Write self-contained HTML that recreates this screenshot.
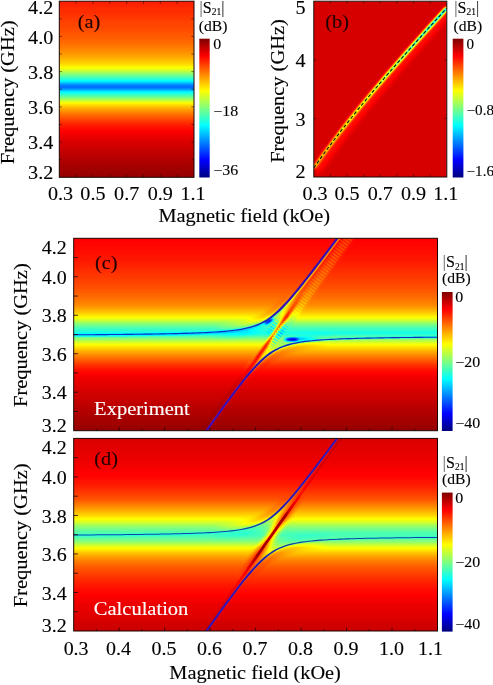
<!DOCTYPE html>
<html lang="en"><head><meta charset="utf-8"><title>Figure</title>
<style>html,body{margin:0;padding:0;background:#fff}svg{display:block}text{stroke-width:.12px;paint-order:stroke fill}text.k{stroke:#000}text.w{stroke:#fff}text.m{stroke:#200000}</style></head>
<body>
<svg width="493" height="685" viewBox="0 0 493 685" font-family='"Liberation Serif", serif'>
<defs>
<filter id="jet" x="0" y="0" width="1" height="1" color-interpolation-filters="sRGB">
<feComponentTransfer>
<feFuncR type="table" tableValues="0 0 0 0 .5 1 1 1 .5"/>
<feFuncG type="table" tableValues="0 0 .5 1 1 1 .5 0 0"/>
<feFuncB type="table" tableValues=".5 1 1 1 .5 0 0 0 0"/>
</feComponentTransfer></filter>
<linearGradient id="cb" x1="0" y1="0" x2="0" y2="1"><stop offset="0" stop-color="#fff"/><stop offset="1" stop-color="#000"/></linearGradient>
<filter id="b0_6" x="-20%" y="-20%" width="140%" height="140%" color-interpolation-filters="sRGB"><feGaussianBlur stdDeviation="0.6"/></filter>
<filter id="b1" x="-20%" y="-20%" width="140%" height="140%" color-interpolation-filters="sRGB"><feGaussianBlur stdDeviation="1"/></filter>
<filter id="b1_5" x="-20%" y="-20%" width="140%" height="140%" color-interpolation-filters="sRGB"><feGaussianBlur stdDeviation="1.5"/></filter>
<filter id="b2_5" x="-20%" y="-20%" width="140%" height="140%" color-interpolation-filters="sRGB"><feGaussianBlur stdDeviation="2.5"/></filter>
<filter id="b4" x="-20%" y="-20%" width="140%" height="140%" color-interpolation-filters="sRGB"><feGaussianBlur stdDeviation="4"/></filter>
<linearGradient id="ga" x1="0" y1="0" x2="0" y2="1"><stop offset="0%" stop-color="#d7d7d7"/><stop offset="1.14%" stop-color="#d7d7d7"/><stop offset="2.27%" stop-color="#d6d6d6"/><stop offset="3.41%" stop-color="#d5d5d5"/><stop offset="4.55%" stop-color="#d4d4d4"/><stop offset="5.68%" stop-color="#d4d4d4"/><stop offset="6.82%" stop-color="#d3d3d3"/><stop offset="7.95%" stop-color="#d2d2d2"/><stop offset="9.09%" stop-color="#d1d1d1"/><stop offset="10.23%" stop-color="#d0d0d0"/><stop offset="11.36%" stop-color="#cfcfcf"/><stop offset="12.5%" stop-color="#cecece"/><stop offset="13.64%" stop-color="#cecece"/><stop offset="14.77%" stop-color="#cdcdcd"/><stop offset="15.91%" stop-color="#cccccc"/><stop offset="17.05%" stop-color="#cbcbcb"/><stop offset="18.18%" stop-color="#cacaca"/><stop offset="19.32%" stop-color="#c9c9c9"/><stop offset="20.45%" stop-color="#c8c8c8"/><stop offset="21.59%" stop-color="#c7c7c7"/><stop offset="22.73%" stop-color="#c5c5c5"/><stop offset="23.86%" stop-color="#c4c4c4"/><stop offset="25%" stop-color="#c2c2c2"/><stop offset="26.14%" stop-color="#c0c0c0"/><stop offset="27.27%" stop-color="#bebebe"/><stop offset="28.41%" stop-color="#bcbcbc"/><stop offset="29.55%" stop-color="#bababa"/><stop offset="30.68%" stop-color="#b7b7b7"/><stop offset="31.82%" stop-color="#b5b5b5"/><stop offset="32.95%" stop-color="#b1b1b1"/><stop offset="34.09%" stop-color="#aeaeae"/><stop offset="35.23%" stop-color="#aaaaaa"/><stop offset="36.36%" stop-color="#a6a6a6"/><stop offset="37.5%" stop-color="#a0a0a0"/><stop offset="38.64%" stop-color="#999999"/><stop offset="39.77%" stop-color="#909090"/><stop offset="40.91%" stop-color="#858585"/><stop offset="42.05%" stop-color="#7c7c7c"/><stop offset="43.18%" stop-color="#727272"/><stop offset="44.32%" stop-color="#696969"/><stop offset="45.45%" stop-color="#5e5e5e"/><stop offset="46.59%" stop-color="#4e4e4e"/><stop offset="47.73%" stop-color="#3f3f3f"/><stop offset="48.86%" stop-color="#3a3a3a"/><stop offset="50%" stop-color="#464646"/><stop offset="51.14%" stop-color="#585858"/><stop offset="52.27%" stop-color="#666666"/><stop offset="53.41%" stop-color="#717171"/><stop offset="54.55%" stop-color="#7b7b7b"/><stop offset="55.68%" stop-color="#888888"/><stop offset="56.82%" stop-color="#959595"/><stop offset="57.95%" stop-color="#a1a1a1"/><stop offset="59.09%" stop-color="#a9a9a9"/><stop offset="60.23%" stop-color="#b0b0b0"/><stop offset="61.36%" stop-color="#b6b6b6"/><stop offset="62.5%" stop-color="#bbbbbb"/><stop offset="63.64%" stop-color="#c0c0c0"/><stop offset="64.77%" stop-color="#c5c5c5"/><stop offset="65.91%" stop-color="#c9c9c9"/><stop offset="67.05%" stop-color="#cdcdcd"/><stop offset="68.18%" stop-color="#d1d1d1"/><stop offset="69.32%" stop-color="#d5d5d5"/><stop offset="70.45%" stop-color="#d8d8d8"/><stop offset="71.59%" stop-color="#dbdbdb"/><stop offset="72.73%" stop-color="#dddddd"/><stop offset="73.86%" stop-color="#dfdfdf"/><stop offset="75%" stop-color="#e1e1e1"/><stop offset="76.14%" stop-color="#e3e3e3"/><stop offset="77.27%" stop-color="#e5e5e5"/><stop offset="78.41%" stop-color="#e6e6e6"/><stop offset="79.55%" stop-color="#e8e8e8"/><stop offset="80.68%" stop-color="#e9e9e9"/><stop offset="81.82%" stop-color="#eaeaea"/><stop offset="82.95%" stop-color="#ebebeb"/><stop offset="84.09%" stop-color="#ececec"/><stop offset="85.23%" stop-color="#eeeeee"/><stop offset="86.36%" stop-color="#efefef"/><stop offset="87.5%" stop-color="#f0f0f0"/><stop offset="88.64%" stop-color="#f1f1f1"/><stop offset="89.77%" stop-color="#f2f2f2"/><stop offset="90.91%" stop-color="#f3f3f3"/><stop offset="92.05%" stop-color="#f4f4f4"/><stop offset="93.18%" stop-color="#f5f5f5"/><stop offset="94.32%" stop-color="#f6f6f6"/><stop offset="95.45%" stop-color="#f7f7f7"/><stop offset="96.59%" stop-color="#f7f7f7"/><stop offset="97.73%" stop-color="#f8f8f8"/><stop offset="98.86%" stop-color="#f9f9f9"/><stop offset="100%" stop-color="#f9f9f9"/></linearGradient>
<linearGradient id="gbl" gradientUnits="userSpaceOnUse" x1="313.8" y1="0" x2="446.8" y2="0"><stop offset="0" stop-color="#000" stop-opacity=".24"/><stop offset=".45" stop-color="#000" stop-opacity=".38"/><stop offset="1" stop-color="#000" stop-opacity=".7"/></linearGradient>
<linearGradient id="gbh" gradientUnits="userSpaceOnUse" x1="313.8" y1="0" x2="446.8" y2="0"><stop offset="0" stop-color="#000" stop-opacity=".08"/><stop offset="1" stop-color="#000" stop-opacity=".3"/></linearGradient>
<clipPath id="cpb"><rect x="313.8" y="1.2" width="133" height="175.8"/></clipPath>
<linearGradient id="gc" x1="0" y1="0" x2="0" y2="1"><stop offset="0%" stop-color="#dfdfdf"/><stop offset="1.04%" stop-color="#dfdfdf"/><stop offset="2.08%" stop-color="#dedede"/><stop offset="3.12%" stop-color="#dedede"/><stop offset="4.17%" stop-color="#dddddd"/><stop offset="5.21%" stop-color="#dddddd"/><stop offset="6.25%" stop-color="#dcdcdc"/><stop offset="7.29%" stop-color="#dcdcdc"/><stop offset="8.33%" stop-color="#dbdbdb"/><stop offset="9.38%" stop-color="#dadada"/><stop offset="10.42%" stop-color="#dadada"/><stop offset="11.46%" stop-color="#d9d9d9"/><stop offset="12.5%" stop-color="#d8d8d8"/><stop offset="13.54%" stop-color="#d7d7d7"/><stop offset="14.58%" stop-color="#d6d6d6"/><stop offset="15.62%" stop-color="#d5d5d5"/><stop offset="16.67%" stop-color="#d4d4d4"/><stop offset="17.71%" stop-color="#d3d3d3"/><stop offset="18.75%" stop-color="#d2d2d2"/><stop offset="19.79%" stop-color="#d1d1d1"/><stop offset="20.83%" stop-color="#d0d0d0"/><stop offset="21.88%" stop-color="#cfcfcf"/><stop offset="22.92%" stop-color="#cecece"/><stop offset="23.96%" stop-color="#cdcdcd"/><stop offset="25%" stop-color="#cccccc"/><stop offset="26.04%" stop-color="#cbcbcb"/><stop offset="27.08%" stop-color="#c9c9c9"/><stop offset="28.12%" stop-color="#c8c8c8"/><stop offset="29.17%" stop-color="#c6c6c6"/><stop offset="30.21%" stop-color="#c5c5c5"/><stop offset="31.25%" stop-color="#c3c3c3"/><stop offset="32.29%" stop-color="#c1c1c1"/><stop offset="33.33%" stop-color="#bfbfbf"/><stop offset="34.38%" stop-color="#bdbdbd"/><stop offset="35.42%" stop-color="#bababa"/><stop offset="36.46%" stop-color="#b6b6b6"/><stop offset="37.5%" stop-color="#b2b2b2"/><stop offset="38.54%" stop-color="#adadad"/><stop offset="39.58%" stop-color="#a8a8a8"/><stop offset="40.62%" stop-color="#a2a2a2"/><stop offset="41.67%" stop-color="#9c9c9c"/><stop offset="42.71%" stop-color="#929292"/><stop offset="43.75%" stop-color="#888888"/><stop offset="44.79%" stop-color="#7f7f7f"/><stop offset="45.83%" stop-color="#777777"/><stop offset="46.88%" stop-color="#707070"/><stop offset="47.92%" stop-color="#6b6b6b"/><stop offset="48.96%" stop-color="#666666"/><stop offset="50%" stop-color="#696969"/><stop offset="51.04%" stop-color="#757575"/><stop offset="52.08%" stop-color="#818181"/><stop offset="53.12%" stop-color="#8c8c8c"/><stop offset="54.17%" stop-color="#969696"/><stop offset="55.21%" stop-color="#9e9e9e"/><stop offset="56.25%" stop-color="#a5a5a5"/><stop offset="57.29%" stop-color="#ababab"/><stop offset="58.33%" stop-color="#b1b1b1"/><stop offset="59.38%" stop-color="#b6b6b6"/><stop offset="60.42%" stop-color="#bbbbbb"/><stop offset="61.46%" stop-color="#c0c0c0"/><stop offset="62.5%" stop-color="#c4c4c4"/><stop offset="63.54%" stop-color="#c9c9c9"/><stop offset="64.58%" stop-color="#cdcdcd"/><stop offset="65.62%" stop-color="#d2d2d2"/><stop offset="66.67%" stop-color="#d5d5d5"/><stop offset="67.71%" stop-color="#d9d9d9"/><stop offset="68.75%" stop-color="#dcdcdc"/><stop offset="69.79%" stop-color="#dedede"/><stop offset="70.83%" stop-color="#e0e0e0"/><stop offset="71.88%" stop-color="#e2e2e2"/><stop offset="72.92%" stop-color="#e3e3e3"/><stop offset="73.96%" stop-color="#e4e4e4"/><stop offset="75%" stop-color="#e5e5e5"/><stop offset="76.04%" stop-color="#e6e6e6"/><stop offset="77.08%" stop-color="#e7e7e7"/><stop offset="78.12%" stop-color="#e8e8e8"/><stop offset="79.17%" stop-color="#e9e9e9"/><stop offset="80.21%" stop-color="#eaeaea"/><stop offset="81.25%" stop-color="#ebebeb"/><stop offset="82.29%" stop-color="#ececec"/><stop offset="83.33%" stop-color="#ececec"/><stop offset="84.38%" stop-color="#ededed"/><stop offset="85.42%" stop-color="#eeeeee"/><stop offset="86.46%" stop-color="#efefef"/><stop offset="87.5%" stop-color="#f0f0f0"/><stop offset="88.54%" stop-color="#f1f1f1"/><stop offset="89.58%" stop-color="#f2f2f2"/><stop offset="90.62%" stop-color="#f2f2f2"/><stop offset="91.67%" stop-color="#f3f3f3"/><stop offset="92.71%" stop-color="#f4f4f4"/><stop offset="93.75%" stop-color="#f5f5f5"/><stop offset="94.79%" stop-color="#f6f6f6"/><stop offset="95.83%" stop-color="#f6f6f6"/><stop offset="96.88%" stop-color="#f7f7f7"/><stop offset="97.92%" stop-color="#f8f8f8"/><stop offset="98.96%" stop-color="#f9f9f9"/><stop offset="100%" stop-color="#f9f9f9"/></linearGradient>
<clipPath id="cpc"><rect x="73.7" y="238.3" width="363.8" height="192.4"/></clipPath>
<radialGradient id="mgc" gradientUnits="userSpaceOnUse" cx="272.02" cy="335.85" r="62" gradientTransform="translate(272.02 335.85) scale(1 0.8) translate(-272.02 -335.85)"><stop offset="0" stop-color="#fff"/><stop offset=".45" stop-color="#fff"/><stop offset="1" stop-color="#000"/></radialGradient>
<mask id="mkc" maskUnits="userSpaceOnUse" x="0" y="0" width="493" height="685"><rect x="0" y="238.3" width="493" height="192.4" fill="url(#mgc)"/></mask>
<clipPath id="crc"><path d="M289.31 344.5L292.52 343.7L295.73 343.01L298.94 342.43L302.15 341.92L305.36 341.48L308.57 341.09L311.78 340.75L314.99 340.45L318.19 340.18L321.4 339.94L324.62 339.73L327.82 339.53L331.04 339.36L334.25 339.2L337.46 339.05L340.67 338.92L343.88 338.79L347.09 338.68L350.3 338.57L353.51 338.47L356.71 338.38L359.93 338.3L363.13 338.22L366.35 338.14L369.56 338.07L372.77 338.01L375.98 337.94L379.19 337.88L382.4 337.83L385.61 337.78L388.82 337.73L392.02 337.68L395.24 337.63L398.44 337.59L401.66 337.55L404.87 337.51L408.08 337.47L411.29 337.44L414.49 337.4L417.71 337.37L420.91 337.34L424.13 337.31L427.33 337.28L430.54 337.25L433.75 337.23L436.96 337.2L440.18 337.18L443.38 337.15L446.59 337.13L449.5 233.3L289.31 233.3Z"/></clipPath>
<radialGradient id="rg1" gradientUnits="userSpaceOnUse" cx="281.02" cy="336.85" r="17"><stop offset="0" stop-color="#fff"/><stop offset=".5" stop-color="#fff" stop-opacity=".8"/><stop offset="1" stop-color="#fff" stop-opacity="0"/></radialGradient>
<mask id="mr1" maskUnits="userSpaceOnUse" x="0" y="0" width="493" height="685"><rect x="0" y="238.3" width="493" height="192.4" fill="url(#rg1)"/></mask>
<radialGradient id="rg2" gradientUnits="userSpaceOnUse" cx="271.02" cy="324.85" r="11"><stop offset="0" stop-color="#fff"/><stop offset=".5" stop-color="#fff" stop-opacity=".8"/><stop offset="1" stop-color="#fff" stop-opacity="0"/></radialGradient>
<mask id="mr2" maskUnits="userSpaceOnUse" x="0" y="0" width="493" height="685"><rect x="0" y="238.3" width="493" height="192.4" fill="url(#rg2)"/></mask>
<linearGradient id="lowg" gradientUnits="userSpaceOnUse" x1="0" y1="360.85" x2="0" y2="430.7"><stop offset="0" stop-color="#fff" stop-opacity="0"/><stop offset="1" stop-color="#fff" stop-opacity=".42"/></linearGradient>
<linearGradient id="lgc" gradientUnits="userSpaceOnUse" x1="0" y1="303.85" x2="0" y2="367.85"><stop offset="0" stop-color="#380cb4"/><stop offset=".5" stop-color="#0834c4"/><stop offset="1" stop-color="#380cb4"/></linearGradient>
<linearGradient id="gd" x1="0" y1="0" x2="0" y2="1"><stop offset="0%" stop-color="#e8e8e8"/><stop offset="1.04%" stop-color="#e8e8e8"/><stop offset="2.08%" stop-color="#e7e7e7"/><stop offset="3.12%" stop-color="#e7e7e7"/><stop offset="4.17%" stop-color="#e7e7e7"/><stop offset="5.21%" stop-color="#e6e6e6"/><stop offset="6.25%" stop-color="#e6e6e6"/><stop offset="7.29%" stop-color="#e5e5e5"/><stop offset="8.33%" stop-color="#e5e5e5"/><stop offset="9.38%" stop-color="#e4e4e4"/><stop offset="10.42%" stop-color="#e4e4e4"/><stop offset="11.46%" stop-color="#e3e3e3"/><stop offset="12.5%" stop-color="#e3e3e3"/><stop offset="13.54%" stop-color="#e2e2e2"/><stop offset="14.58%" stop-color="#e2e2e2"/><stop offset="15.62%" stop-color="#e1e1e1"/><stop offset="16.67%" stop-color="#e0e0e0"/><stop offset="17.71%" stop-color="#dfdfdf"/><stop offset="18.75%" stop-color="#dfdfdf"/><stop offset="19.79%" stop-color="#dedede"/><stop offset="20.83%" stop-color="#dddddd"/><stop offset="21.88%" stop-color="#dbdbdb"/><stop offset="22.92%" stop-color="#dadada"/><stop offset="23.96%" stop-color="#d9d9d9"/><stop offset="25%" stop-color="#d7d7d7"/><stop offset="26.04%" stop-color="#d5d5d5"/><stop offset="27.08%" stop-color="#d3d3d3"/><stop offset="28.12%" stop-color="#d1d1d1"/><stop offset="29.17%" stop-color="#cfcfcf"/><stop offset="30.21%" stop-color="#cdcdcd"/><stop offset="31.25%" stop-color="#cbcbcb"/><stop offset="32.29%" stop-color="#c8c8c8"/><stop offset="33.33%" stop-color="#c4c4c4"/><stop offset="34.38%" stop-color="#c0c0c0"/><stop offset="35.42%" stop-color="#bcbcbc"/><stop offset="36.46%" stop-color="#b8b8b8"/><stop offset="37.5%" stop-color="#b4b4b4"/><stop offset="38.54%" stop-color="#afafaf"/><stop offset="39.58%" stop-color="#ababab"/><stop offset="40.62%" stop-color="#a6a6a6"/><stop offset="41.67%" stop-color="#a0a0a0"/><stop offset="42.71%" stop-color="#9a9a9a"/><stop offset="43.75%" stop-color="#939393"/><stop offset="44.79%" stop-color="#8b8b8b"/><stop offset="45.83%" stop-color="#848484"/><stop offset="46.88%" stop-color="#7e7e7e"/><stop offset="47.92%" stop-color="#787878"/><stop offset="48.96%" stop-color="#747474"/><stop offset="50%" stop-color="#717171"/><stop offset="51.04%" stop-color="#747474"/><stop offset="52.08%" stop-color="#797979"/><stop offset="53.12%" stop-color="#7f7f7f"/><stop offset="54.17%" stop-color="#878787"/><stop offset="55.21%" stop-color="#919191"/><stop offset="56.25%" stop-color="#9a9a9a"/><stop offset="57.29%" stop-color="#a1a1a1"/><stop offset="58.33%" stop-color="#a7a7a7"/><stop offset="59.38%" stop-color="#adadad"/><stop offset="60.42%" stop-color="#b2b2b2"/><stop offset="61.46%" stop-color="#b7b7b7"/><stop offset="62.5%" stop-color="#bbbbbb"/><stop offset="63.54%" stop-color="#bfbfbf"/><stop offset="64.58%" stop-color="#c2c2c2"/><stop offset="65.62%" stop-color="#c5c5c5"/><stop offset="66.67%" stop-color="#c8c8c8"/><stop offset="67.71%" stop-color="#cacaca"/><stop offset="68.75%" stop-color="#cccccc"/><stop offset="69.79%" stop-color="#cecece"/><stop offset="70.83%" stop-color="#d0d0d0"/><stop offset="71.88%" stop-color="#d2d2d2"/><stop offset="72.92%" stop-color="#d4d4d4"/><stop offset="73.96%" stop-color="#d6d6d6"/><stop offset="75%" stop-color="#d7d7d7"/><stop offset="76.04%" stop-color="#d9d9d9"/><stop offset="77.08%" stop-color="#dadada"/><stop offset="78.12%" stop-color="#dcdcdc"/><stop offset="79.17%" stop-color="#dddddd"/><stop offset="80.21%" stop-color="#dedede"/><stop offset="81.25%" stop-color="#dfdfdf"/><stop offset="82.29%" stop-color="#e0e0e0"/><stop offset="83.33%" stop-color="#e1e1e1"/><stop offset="84.38%" stop-color="#e2e2e2"/><stop offset="85.42%" stop-color="#e3e3e3"/><stop offset="86.46%" stop-color="#e4e4e4"/><stop offset="87.5%" stop-color="#e4e4e4"/><stop offset="88.54%" stop-color="#e5e5e5"/><stop offset="89.58%" stop-color="#e5e5e5"/><stop offset="90.62%" stop-color="#e6e6e6"/><stop offset="91.67%" stop-color="#e7e7e7"/><stop offset="92.71%" stop-color="#e7e7e7"/><stop offset="93.75%" stop-color="#e8e8e8"/><stop offset="94.79%" stop-color="#e9e9e9"/><stop offset="95.83%" stop-color="#eaeaea"/><stop offset="96.88%" stop-color="#ebebeb"/><stop offset="97.92%" stop-color="#ebebeb"/><stop offset="98.96%" stop-color="#ececec"/><stop offset="100%" stop-color="#ededed"/></linearGradient>
<clipPath id="cpd"><rect x="73.7" y="438.4" width="363.8" height="192.6"/></clipPath>
<radialGradient id="mgd" gradientUnits="userSpaceOnUse" cx="272.02" cy="536.05" r="62" gradientTransform="translate(272.02 536.05) scale(1 0.8) translate(-272.02 -536.05)"><stop offset="0" stop-color="#fff"/><stop offset=".45" stop-color="#fff"/><stop offset="1" stop-color="#000"/></radialGradient>
<mask id="mkd" maskUnits="userSpaceOnUse" x="0" y="0" width="493" height="685"><rect x="0" y="438.4" width="493" height="192.6" fill="url(#mgd)"/></mask>
<linearGradient id="lgd" gradientUnits="userSpaceOnUse" x1="0" y1="504.05" x2="0" y2="568.05"><stop offset="0" stop-color="#3012b8"/><stop offset=".5" stop-color="#0c4ca4"/><stop offset="1" stop-color="#3012b8"/></linearGradient>
</defs>
<rect x="59.3" y="1.2" width="134.7" height="176.1" fill="url(#ga)" filter="url(#jet)"/>
<path d="M76.14 177.3v-2.6M76.14 1.2v2.6M92.97 177.3v-2.6M92.97 1.2v2.6M109.81 177.3v-2.6M109.81 1.2v2.6M126.65 177.3v-2.6M126.65 1.2v2.6M143.49 177.3v-2.6M143.49 1.2v2.6M160.32 177.3v-2.6M160.32 1.2v2.6M177.16 177.3v-2.6M177.16 1.2v2.6M59.3 18.81h2.6M194 18.81h-2.6M59.3 36.42h2.6M194 36.42h-2.6M59.3 54.03h2.6M194 54.03h-2.6M59.3 71.64h2.6M194 71.64h-2.6M59.3 89.25h2.6M194 89.25h-2.6M59.3 106.86h2.6M194 106.86h-2.6M59.3 124.47h2.6M194 124.47h-2.6M59.3 142.08h2.6M194 142.08h-2.6M59.3 159.69h2.6M194 159.69h-2.6" stroke="#1a0a0a" stroke-width="0.9" stroke-opacity="0.6" fill="none"/>
<rect x="59.3" y="1.2" width="134.7" height="176.1" fill="none" stroke="#1a0505" stroke-width="1"/>
<text class="k" transform="translate(53.3 13.85) scale(1.09 1)" font-size="18.5" text-anchor="end" fill="#000">4.2</text>
<text class="k" transform="translate(53.3 43.85) scale(1.09 1)" font-size="18.5" text-anchor="end" fill="#000">4.0</text>
<text class="k" transform="translate(53.3 78.85) scale(1.09 1)" font-size="18.5" text-anchor="end" fill="#000">3.8</text>
<text class="k" transform="translate(53.3 113.55) scale(1.09 1)" font-size="18.5" text-anchor="end" fill="#000">3.6</text>
<text class="k" transform="translate(53.3 148.55) scale(1.09 1)" font-size="18.5" text-anchor="end" fill="#000">3.4</text>
<text class="k" transform="translate(53.3 179.05) scale(1.09 1)" font-size="18.5" text-anchor="end" fill="#000">3.2</text>
<text class="k" transform="translate(60.5 200) scale(1.09 1)" font-size="18.5" text-anchor="middle" fill="#000">0.3</text>
<text class="k" transform="translate(92.97 200) scale(1.09 1)" font-size="18.5" text-anchor="middle" fill="#000">0.5</text>
<text class="k" transform="translate(126.65 200) scale(1.09 1)" font-size="18.5" text-anchor="middle" fill="#000">0.7</text>
<text class="k" transform="translate(160.32 200) scale(1.09 1)" font-size="18.5" text-anchor="middle" fill="#000">0.9</text>
<text class="k" transform="translate(193 200) scale(1.09 1)" font-size="18.5" text-anchor="middle" fill="#000">1.1</text>
<text class="m" transform="translate(77.8 28) scale(1.13 1)" font-size="18" text-anchor="start" fill="#200000">(a)</text>
<text class="k" transform="translate(13.7 92.3) rotate(-90) scale(1.1 1)" font-size="18.6" text-anchor="middle" fill="#000">Frequency (GHz)</text>
<rect x="199.3" y="38.7" width="10.4" height="138.8" fill="url(#cb)" filter="url(#jet)"/>
<text class="k" transform="translate(213.2 48.7) scale(1.1 1)" font-size="14.5" text-anchor="start" fill="#000">0</text>
<text class="k" transform="translate(213.2 115.6) scale(1.1 1)" font-size="14.5" text-anchor="start" fill="#000">−18</text>
<text class="k" transform="translate(213.2 175.1) scale(1.1 1)" font-size="14.5" text-anchor="start" fill="#000">−36</text>
<text class="k" transform="translate(199.6 12.8) scale(1.0 1)" font-size="16" fill="#000"><tspan fill="#777">|</tspan>S<tspan font-size="9.5" dy="2.6">21</tspan><tspan dy="-2.6" fill="#333">|</tspan></text>
<text class="k" transform="translate(198.8 30.6) scale(1.02 1)" font-size="15.3" text-anchor="start" fill="#000">(dB)</text>
<g filter="url(#jet)" clip-path="url(#cpb)"><rect x="313.8" y="1.2" width="133" height="175.8" fill="#e9e9e9"/>
<path d="M313.8 168.02L317.96 162.03L322.11 156.17L326.27 150.44L330.43 144.82L334.58 139.29L338.74 133.85L342.89 128.49L347.05 123.2L351.21 117.98L355.36 112.82L359.52 107.71L363.68 102.65L367.83 97.64L371.99 92.67L376.14 87.74L380.3 82.85L384.46 77.99L388.61 73.16L392.77 68.37L396.93 63.6L401.08 58.86L405.24 54.14L409.39 49.45L413.55 44.78L417.71 40.14L421.86 35.51L426.02 30.9L430.18 26.31L434.33 21.73L438.49 17.18L442.64 12.63L446.8 8.11" stroke="#000" stroke-opacity=".07" stroke-width="6" fill="none" filter="url(#b2_5)" transform="translate(3.5 3)"/>
<path d="M313.8 168.02L317.96 162.03L322.11 156.17L326.27 150.44L330.43 144.82L334.58 139.29L338.74 133.85L342.89 128.49L347.05 123.2L351.21 117.98L355.36 112.82L359.52 107.71L363.68 102.65L367.83 97.64L371.99 92.67L376.14 87.74L380.3 82.85L384.46 77.99L388.61 73.16L392.77 68.37L396.93 63.6L401.08 58.86L405.24 54.14L409.39 49.45L413.55 44.78L417.71 40.14L421.86 35.51L426.02 30.9L430.18 26.31L434.33 21.73L438.49 17.18L442.64 12.63L446.8 8.11" stroke="url(#gbh)" stroke-width="4" fill="none" filter="url(#b1)"/>
<path d="M313.8 168.02L317.96 162.03L322.11 156.17L326.27 150.44L330.43 144.82L334.58 139.29L338.74 133.85L342.89 128.49L347.05 123.2L351.21 117.98L355.36 112.82L359.52 107.71L363.68 102.65L367.83 97.64L371.99 92.67L376.14 87.74L380.3 82.85L384.46 77.99L388.61 73.16L392.77 68.37L396.93 63.6L401.08 58.86L405.24 54.14L409.39 49.45L413.55 44.78L417.71 40.14L421.86 35.51L426.02 30.9L430.18 26.31L434.33 21.73L438.49 17.18L442.64 12.63L446.8 8.11" stroke="url(#gbl)" stroke-width="2.1" fill="none" filter="url(#b1)"/></g>
<path d="M313.8 168.02L317.96 162.03L322.11 156.17L326.27 150.44L330.43 144.82L334.58 139.29L338.74 133.85L342.89 128.49L347.05 123.2L351.21 117.98L355.36 112.82L359.52 107.71L363.68 102.65L367.83 97.64L371.99 92.67L376.14 87.74L380.3 82.85L384.46 77.99L388.61 73.16L392.77 68.37L396.93 63.6L401.08 58.86L405.24 54.14L409.39 49.45L413.55 44.78L417.71 40.14L421.86 35.51L426.02 30.9L430.18 26.31L434.33 21.73L438.49 17.18L442.64 12.63L446.8 8.11" stroke="#00140c" stroke-width="1.1" stroke-dasharray="3.4 2.2" fill="none" clip-path="url(#cpb)"/>
<path d="M330.43 177v-2.6M330.43 1.2v2.6M347.05 177v-2.6M347.05 1.2v2.6M363.68 177v-2.6M363.68 1.2v2.6M380.3 177v-2.6M380.3 1.2v2.6M396.93 177v-2.6M396.93 1.2v2.6M413.55 177v-2.6M413.55 1.2v2.6M430.18 177v-2.6M430.18 1.2v2.6M313.8 59.8h2.6M446.8 59.8h-2.6M313.8 118.4h2.6M446.8 118.4h-2.6" stroke="#1a0a0a" stroke-width="0.9" stroke-opacity="0.6" fill="none"/>
<rect x="313.8" y="1.2" width="133" height="175.8" fill="none" stroke="#1a0505" stroke-width="1"/>
<text class="k" transform="translate(305.6 13.65) scale(1.09 1)" font-size="18.5" text-anchor="end" fill="#000">5</text>
<text class="k" transform="translate(305.6 66.65) scale(1.09 1)" font-size="18.5" text-anchor="end" fill="#000">4</text>
<text class="k" transform="translate(305.6 125.75) scale(1.09 1)" font-size="18.5" text-anchor="end" fill="#000">3</text>
<text class="k" transform="translate(305.6 178.05) scale(1.09 1)" font-size="18.5" text-anchor="end" fill="#000">2</text>
<text class="k" transform="translate(315 200) scale(1.09 1)" font-size="18.5" text-anchor="middle" fill="#000">0.3</text>
<text class="k" transform="translate(347.05 200) scale(1.09 1)" font-size="18.5" text-anchor="middle" fill="#000">0.5</text>
<text class="k" transform="translate(380.3 200) scale(1.09 1)" font-size="18.5" text-anchor="middle" fill="#000">0.7</text>
<text class="k" transform="translate(413.55 200) scale(1.09 1)" font-size="18.5" text-anchor="middle" fill="#000">0.9</text>
<text class="k" transform="translate(445.8 200) scale(1.09 1)" font-size="18.5" text-anchor="middle" fill="#000">1.1</text>
<text class="m" transform="translate(325.3 27.8) scale(1.13 1)" font-size="18" text-anchor="start" fill="#200000">(b)</text>
<text class="k" transform="translate(283.9 91) rotate(-90) scale(1.1 1)" font-size="18.6" text-anchor="middle" fill="#000">Frequency (GHz)</text>
<rect x="452.7" y="38.7" width="10.7" height="138.8" fill="url(#cb)" filter="url(#jet)"/>
<text class="k" transform="translate(466.6 48.7) scale(1.04 1)" font-size="14.5" text-anchor="start" fill="#000">0</text>
<text class="k" transform="translate(466.6 114.6) scale(1.04 1)" font-size="14.5" text-anchor="start" fill="#000">−0.8</text>
<text class="k" transform="translate(466.6 175.5) scale(1.04 1)" font-size="14.5" text-anchor="start" fill="#000">−1.6</text>
<text class="k" transform="translate(454.3 12.8) scale(1.0 1)" font-size="16" fill="#000"><tspan fill="#777">|</tspan>S<tspan font-size="9.5" dy="2.6">21</tspan><tspan dy="-2.6" fill="#333">|</tspan></text>
<text class="k" transform="translate(453.5 30.6) scale(1.02 1)" font-size="15.3" text-anchor="start" fill="#000">(dB)</text>
<text class="k" transform="translate(244.3 221.8) scale(1.13 1)" font-size="18" text-anchor="middle" fill="#000">Magnetic field (kOe)</text>
<g filter="url(#jet)" clip-path="url(#cpc)">
<rect x="73.7" y="238.3" width="363.8" height="192.4" fill="url(#gc)"/>
<g clip-path="url(#crc)"><path d="M193 447.45L196.22 442.67L199.43 437.9L202.63 433.14L205.85 428.39L209.06 423.66L212.27 418.93L215.48 414.22L218.69 409.51L221.9 404.82L225.11 400.14L228.31 395.47L231.53 390.8L234.74 386.15L237.94 381.5L241.15 376.87L244.37 372.24L247.57 367.62L250.79 363.02L254 358.41L257.21 353.82L260.42 349.24L263.63 344.66L266.84 340.09L270.05 335.53L273.26 330.98L276.46 326.43L279.68 321.89L282.88 317.36L286.1 312.83L289.31 308.31L292.52 303.8L295.73 299.3L298.94 294.8L302.15 290.3L305.36 285.82L308.57 281.34L311.78 276.86L314.99 272.39L318.19 267.93L321.4 263.47L324.62 259.02L327.82 254.57L331.04 250.13L334.25 245.7L337.46 241.27L340.67 236.84L343.88 232.42L347.09 228.01L350.3 223.6L353.51 219.19" transform="translate(8 0)" stroke="#000" stroke-opacity=".045" stroke-width="9.5" stroke-dasharray="1.5 1.5" fill="none" filter="url(#b0_6)"/><path d="M193 447.45L196.22 442.67L199.43 437.9L202.63 433.14L205.85 428.39L209.06 423.66L212.27 418.93L215.48 414.22L218.69 409.51L221.9 404.82L225.11 400.14L228.31 395.47L231.53 390.8L234.74 386.15L237.94 381.5L241.15 376.87L244.37 372.24L247.57 367.62L250.79 363.02L254 358.41L257.21 353.82L260.42 349.24L263.63 344.66L266.84 340.09L270.05 335.53L273.26 330.98L276.46 326.43L279.68 321.89L282.88 317.36L286.1 312.83L289.31 308.31L292.52 303.8L295.73 299.3L298.94 294.8L302.15 290.3L305.36 285.82L308.57 281.34L311.78 276.86L314.99 272.39L318.19 267.93L321.4 263.47L324.62 259.02L327.82 254.57L331.04 250.13L334.25 245.7L337.46 241.27L340.67 236.84L343.88 232.42L347.09 228.01L350.3 223.6L353.51 219.19" transform="translate(8 0)" stroke="#000" stroke-opacity=".03" stroke-width="10" fill="none" filter="url(#b1_5)"/></g>
<g mask="url(#mkc)">
<path d="M64.61 334.86L67.82 334.85L71.03 334.83L74.24 334.81L77.45 334.79L80.66 334.77L83.87 334.75L87.08 334.73L90.29 334.71L93.5 334.68L96.71 334.66L99.92 334.63L103.13 334.61L106.34 334.58L109.55 334.56L112.76 334.53L115.97 334.5L119.18 334.47L122.39 334.44L125.6 334.4L128.81 334.37L132.02 334.33L135.23 334.29L138.44 334.25L141.65 334.21L144.86 334.17L148.07 334.12L151.28 334.07L154.49 334.02L157.7 333.97L160.91 333.91L164.12 333.85L167.32 333.79L170.54 333.72L173.75 333.65L176.96 333.58L180.17 333.49L183.38 333.41L186.59 333.31L189.8 333.21L193 333.11L196.22 332.99L199.43 332.86L202.63 332.73L205.85 332.58L209.06 332.41L212.27 332.23L215.48 332.03L218.69 331.81L221.9 331.57L225.11 331.3L228.31 330.99L231.53 330.64L234.74 330.24L237.94 329.79L241.15 329.27L244.37 328.66L247.57 327.95L250.79 327.12L254 326.14L257.21 324.98L260.42 323.62L263.63 322.01L266.84 320.14L270.05 317.99L273.26 315.54L276.46 312.82L279.68 309.84L282.88 306.63L286.1 303.23L289.31 299.66L292.52 295.95L295.73 292.13L298.94 288.22L302.15 284.23L305.36 280.19L308.57 276.09L311.78 271.96L314.99 267.79L318.19 263.59L321.4 259.38L324.62 255.14L327.82 250.89L331.04 246.62L334.25 242.35L337.46 238.06L340.67 233.77L343.88 229.48L347.09 225.18L350.3 220.87" transform="translate(0 -4.5)" stroke="#fff" stroke-opacity=".2" stroke-width="5" fill="none" filter="url(#b2_5)"/>
<path d="M196.22 445.52L199.43 440.88L202.63 436.26L205.85 431.66L209.06 427.09L212.27 422.55L215.48 418.03L218.69 413.55L221.9 409.1L225.11 404.69L228.31 400.32L231.53 396.01L234.74 391.75L237.94 387.56L241.15 383.45L244.37 379.43L247.57 375.52L250.79 371.74L254 368.12L257.21 364.69L260.42 361.47L263.63 358.5L266.84 355.8L270.05 353.39L273.26 351.28L276.46 349.45L279.68 347.9L282.88 346.57L286.1 345.45L289.31 344.5L292.52 343.7L295.73 343.01L298.94 342.43L302.15 341.92L305.36 341.48L308.57 341.09L311.78 340.75L314.99 340.45L318.19 340.18L321.4 339.94L324.62 339.73L327.82 339.53L331.04 339.36L334.25 339.2L337.46 339.05L340.67 338.92L343.88 338.79L347.09 338.68L350.3 338.57L353.51 338.47L356.71 338.38L359.93 338.3L363.13 338.22L366.35 338.14L369.56 338.07L372.77 338.01L375.98 337.94L379.19 337.88L382.4 337.83L385.61 337.78L388.82 337.73L392.02 337.68L395.24 337.63L398.44 337.59L401.66 337.55L404.87 337.51L408.08 337.47L411.29 337.44L414.49 337.4L417.71 337.37L420.91 337.34L424.13 337.31L427.33 337.28L430.54 337.25L433.75 337.23L436.96 337.2L440.18 337.18L443.38 337.15L446.59 337.13" transform="translate(0 4.5)" stroke="#fff" stroke-opacity=".2" stroke-width="5" fill="none" filter="url(#b2_5)"/>
<path d="M64.61 334.86L67.82 334.85L71.03 334.83L74.24 334.81L77.45 334.79L80.66 334.77L83.87 334.75L87.08 334.73L90.29 334.71L93.5 334.68L96.71 334.66L99.92 334.63L103.13 334.61L106.34 334.58L109.55 334.56L112.76 334.53L115.97 334.5L119.18 334.47L122.39 334.44L125.6 334.4L128.81 334.37L132.02 334.33L135.23 334.29L138.44 334.25L141.65 334.21L144.86 334.17L148.07 334.12L151.28 334.07L154.49 334.02L157.7 333.97L160.91 333.91L164.12 333.85L167.32 333.79L170.54 333.72L173.75 333.65L176.96 333.58L180.17 333.49L183.38 333.41L186.59 333.31L189.8 333.21L193 333.11L196.22 332.99L199.43 332.86L202.63 332.73L205.85 332.58L209.06 332.41L212.27 332.23L215.48 332.03L218.69 331.81L221.9 331.57L225.11 331.3L228.31 330.99L231.53 330.64L234.74 330.24L237.94 329.79L241.15 329.27L244.37 328.66L247.57 327.95L250.79 327.12L254 326.14L257.21 324.98L260.42 323.62L263.63 322.01L266.84 320.14L270.05 317.99L273.26 315.54L276.46 312.82L279.68 309.84L282.88 306.63L286.1 303.23L289.31 299.66L292.52 295.95L295.73 292.13L298.94 288.22L302.15 284.23L305.36 280.19L308.57 276.09L311.78 271.96L314.99 267.79L318.19 263.59L321.4 259.38L324.62 255.14L327.82 250.89L331.04 246.62L334.25 242.35L337.46 238.06L340.67 233.77L343.88 229.48L347.09 225.18L350.3 220.87" transform="translate(0 2.5)" stroke="#000" stroke-opacity=".2" stroke-width="4.5" fill="none" filter="url(#b2_5)"/>
<path d="M196.22 445.52L199.43 440.88L202.63 436.26L205.85 431.66L209.06 427.09L212.27 422.55L215.48 418.03L218.69 413.55L221.9 409.1L225.11 404.69L228.31 400.32L231.53 396.01L234.74 391.75L237.94 387.56L241.15 383.45L244.37 379.43L247.57 375.52L250.79 371.74L254 368.12L257.21 364.69L260.42 361.47L263.63 358.5L266.84 355.8L270.05 353.39L273.26 351.28L276.46 349.45L279.68 347.9L282.88 346.57L286.1 345.45L289.31 344.5L292.52 343.7L295.73 343.01L298.94 342.43L302.15 341.92L305.36 341.48L308.57 341.09L311.78 340.75L314.99 340.45L318.19 340.18L321.4 339.94L324.62 339.73L327.82 339.53L331.04 339.36L334.25 339.2L337.46 339.05L340.67 338.92L343.88 338.79L347.09 338.68L350.3 338.57L353.51 338.47L356.71 338.38L359.93 338.3L363.13 338.22L366.35 338.14L369.56 338.07L372.77 338.01L375.98 337.94L379.19 337.88L382.4 337.83L385.61 337.78L388.82 337.73L392.02 337.68L395.24 337.63L398.44 337.59L401.66 337.55L404.87 337.51L408.08 337.47L411.29 337.44L414.49 337.4L417.71 337.37L420.91 337.34L424.13 337.31L427.33 337.28L430.54 337.25L433.75 337.23L436.96 337.2L440.18 337.18L443.38 337.15L446.59 337.13" transform="translate(0 -2.5)" stroke="#000" stroke-opacity=".2" stroke-width="4.5" fill="none" filter="url(#b2_5)"/>
<path d="M193 447.45L196.22 442.67L199.43 437.9L202.63 433.14L205.85 428.39L209.06 423.66L212.27 418.93L215.48 414.22L218.69 409.51L221.9 404.82L225.11 400.14L228.31 395.47L231.53 390.8L234.74 386.15L237.94 381.5L241.15 376.87L244.37 372.24L247.57 367.62L250.79 363.02L254 358.41L257.21 353.82L260.42 349.24L263.63 344.66L266.84 340.09L270.05 335.53L273.26 330.98L276.46 326.43L279.68 321.89L282.88 317.36L286.1 312.83L289.31 308.31L292.52 303.8L295.73 299.3L298.94 294.8L302.15 290.3L305.36 285.82L308.57 281.34L311.78 276.86L314.99 272.39L318.19 267.93L321.4 263.47L324.62 259.02L327.82 254.57L331.04 250.13L334.25 245.7L337.46 241.27L340.67 236.84L343.88 232.42L347.09 228.01L350.3 223.6L353.51 219.19" transform="translate(3 0)" stroke="#fff" stroke-opacity=".66" stroke-width="2.8" fill="none" filter="url(#b1)"/>
<g mask="url(#mr1)"><path d="M193 447.45L196.22 442.67L199.43 437.9L202.63 433.14L205.85 428.39L209.06 423.66L212.27 418.93L215.48 414.22L218.69 409.51L221.9 404.82L225.11 400.14L228.31 395.47L231.53 390.8L234.74 386.15L237.94 381.5L241.15 376.87L244.37 372.24L247.57 367.62L250.79 363.02L254 358.41L257.21 353.82L260.42 349.24L263.63 344.66L266.84 340.09L270.05 335.53L273.26 330.98L276.46 326.43L279.68 321.89L282.88 317.36L286.1 312.83L289.31 308.31L292.52 303.8L295.73 299.3L298.94 294.8L302.15 290.3L305.36 285.82L308.57 281.34L311.78 276.86L314.99 272.39L318.19 267.93L321.4 263.47L324.62 259.02L327.82 254.57L331.04 250.13L334.25 245.7L337.46 241.27L340.67 236.84L343.88 232.42L347.09 228.01L350.3 223.6L353.51 219.19" transform="translate(7.5 0)" stroke="#000" stroke-opacity=".3" stroke-width="7" stroke-dasharray="1.2 1.7" fill="none" filter="url(#b0_6)"/></g>
<g mask="url(#mr2)"><path d="M193 447.45L196.22 442.67L199.43 437.9L202.63 433.14L205.85 428.39L209.06 423.66L212.27 418.93L215.48 414.22L218.69 409.51L221.9 404.82L225.11 400.14L228.31 395.47L231.53 390.8L234.74 386.15L237.94 381.5L241.15 376.87L244.37 372.24L247.57 367.62L250.79 363.02L254 358.41L257.21 353.82L260.42 349.24L263.63 344.66L266.84 340.09L270.05 335.53L273.26 330.98L276.46 326.43L279.68 321.89L282.88 317.36L286.1 312.83L289.31 308.31L292.52 303.8L295.73 299.3L298.94 294.8L302.15 290.3L305.36 285.82L308.57 281.34L311.78 276.86L314.99 272.39L318.19 267.93L321.4 263.47L324.62 259.02L327.82 254.57L331.04 250.13L334.25 245.7L337.46 241.27L340.67 236.84L343.88 232.42L347.09 228.01L350.3 223.6L353.51 219.19" transform="translate(-3.5 0)" stroke="#000" stroke-opacity=".28" stroke-width="5" stroke-dasharray="1.2 1.7" fill="none" filter="url(#b0_6)"/></g>
<ellipse cx="269.02" cy="321.25" rx="5" ry="1.6" transform="rotate(-30 269.02 321.25)" fill="#000" fill-opacity=".85" filter="url(#b1)"/>
<ellipse cx="291.52" cy="339.45" rx="7" ry="1.7" fill="#000" fill-opacity=".8" filter="url(#b1)"/>
<ellipse cx="304.02" cy="339.05" rx="16" ry="1.6" fill="#000" fill-opacity=".4" filter="url(#b1)"/>
</g>
<path d="M193 447.45L196.22 442.67L199.43 437.9L202.63 433.14L205.85 428.39L209.06 423.66L212.27 418.93L215.48 414.22L218.69 409.51L221.9 404.82L225.11 400.14L228.31 395.47L231.53 390.8L234.74 386.15L237.94 381.5L241.15 376.87L244.37 372.24L247.57 367.62L250.79 363.02L254 358.41L257.21 353.82L260.42 349.24L263.63 344.66L266.84 340.09L270.05 335.53L273.26 330.98L276.46 326.43L279.68 321.89L282.88 317.36L286.1 312.83L289.31 308.31L292.52 303.8L295.73 299.3L298.94 294.8L302.15 290.3L305.36 285.82L308.57 281.34L311.78 276.86L314.99 272.39L318.19 267.93L321.4 263.47L324.62 259.02L327.82 254.57L331.04 250.13L334.25 245.7L337.46 241.27L340.67 236.84L343.88 232.42L347.09 228.01L350.3 223.6L353.51 219.19" transform="translate(3 0)" stroke="#fff" stroke-opacity=".14" stroke-width="3.5" fill="none" filter="url(#b1_5)"/>
<path d="M193 447.45L196.22 442.67L199.43 437.9L202.63 433.14L205.85 428.39L209.06 423.66L212.27 418.93L215.48 414.22L218.69 409.51L221.9 404.82L225.11 400.14L228.31 395.47L231.53 390.8L234.74 386.15L237.94 381.5L241.15 376.87L244.37 372.24L247.57 367.62L250.79 363.02L254 358.41L257.21 353.82L260.42 349.24L263.63 344.66L266.84 340.09L270.05 335.53L273.26 330.98L276.46 326.43L279.68 321.89L282.88 317.36L286.1 312.83L289.31 308.31L292.52 303.8L295.73 299.3L298.94 294.8L302.15 290.3L305.36 285.82L308.57 281.34L311.78 276.86L314.99 272.39L318.19 267.93L321.4 263.47L324.62 259.02L327.82 254.57L331.04 250.13L334.25 245.7L337.46 241.27L340.67 236.84L343.88 232.42L347.09 228.01L350.3 223.6L353.51 219.19" transform="translate(-0.5 0)" stroke="url(#lowg)" stroke-width="4.5" fill="none" filter="url(#b1)"/>
<path d="M64.61 334.86L67.82 334.85L71.03 334.83L74.24 334.81L77.45 334.79L80.66 334.77L83.87 334.75L87.08 334.73L90.29 334.71L93.5 334.68L96.71 334.66L99.92 334.63L103.13 334.61L106.34 334.58L109.55 334.56L112.76 334.53L115.97 334.5L119.18 334.47L122.39 334.44L125.6 334.4L128.81 334.37L132.02 334.33L135.23 334.29L138.44 334.25L141.65 334.21L144.86 334.17L148.07 334.12L151.28 334.07L154.49 334.02L157.7 333.97L160.91 333.91L164.12 333.85L167.32 333.79L170.54 333.72L173.75 333.65L176.96 333.58L180.17 333.49L183.38 333.41L186.59 333.31L189.8 333.21L193 333.11L196.22 332.99L199.43 332.86L202.63 332.73L205.85 332.58L209.06 332.41L212.27 332.23L215.48 332.03L218.69 331.81L221.9 331.57L225.11 331.3L228.31 330.99L231.53 330.64L234.74 330.24L237.94 329.79L241.15 329.27L244.37 328.66L247.57 327.95L250.79 327.12L254 326.14L257.21 324.98L260.42 323.62L263.63 322.01L266.84 320.14L270.05 317.99L273.26 315.54L276.46 312.82L279.68 309.84L282.88 306.63L286.1 303.23L289.31 299.66L292.52 295.95L295.73 292.13L298.94 288.22L302.15 284.23L305.36 280.19L308.57 276.09L311.78 271.96L314.99 267.79L318.19 263.59L321.4 259.38L324.62 255.14L327.82 250.89L331.04 246.62L334.25 242.35L337.46 238.06L340.67 233.77L343.88 229.48L347.09 225.18L350.3 220.87" transform="translate(0.9 0.4)" stroke="#000" stroke-opacity=".15" stroke-width="3.2" fill="none" filter="url(#b0_6)"/>
<path d="M196.22 445.52L199.43 440.88L202.63 436.26L205.85 431.66L209.06 427.09L212.27 422.55L215.48 418.03L218.69 413.55L221.9 409.1L225.11 404.69L228.31 400.32L231.53 396.01L234.74 391.75L237.94 387.56L241.15 383.45L244.37 379.43L247.57 375.52L250.79 371.74L254 368.12L257.21 364.69L260.42 361.47L263.63 358.5L266.84 355.8L270.05 353.39L273.26 351.28L276.46 349.45L279.68 347.9L282.88 346.57L286.1 345.45L289.31 344.5L292.52 343.7L295.73 343.01L298.94 342.43L302.15 341.92L305.36 341.48L308.57 341.09L311.78 340.75L314.99 340.45L318.19 340.18L321.4 339.94L324.62 339.73L327.82 339.53L331.04 339.36L334.25 339.2L337.46 339.05L340.67 338.92L343.88 338.79L347.09 338.68L350.3 338.57L353.51 338.47L356.71 338.38L359.93 338.3L363.13 338.22L366.35 338.14L369.56 338.07L372.77 338.01L375.98 337.94L379.19 337.88L382.4 337.83L385.61 337.78L388.82 337.73L392.02 337.68L395.24 337.63L398.44 337.59L401.66 337.55L404.87 337.51L408.08 337.47L411.29 337.44L414.49 337.4L417.71 337.37L420.91 337.34L424.13 337.31L427.33 337.28L430.54 337.25L433.75 337.23L436.96 337.2L440.18 337.18L443.38 337.15L446.59 337.13" stroke="#000" stroke-opacity=".15" stroke-width="2.4" fill="none" filter="url(#b0_6)"/>
</g>
<g clip-path="url(#cpc)" fill="url(#lgc)"><path d="M64.61 335.42L67.82 335.4L71.03 335.38L74.24 335.36L77.45 335.34L80.66 335.32L83.87 335.3L87.08 335.28L90.29 335.26L93.5 335.24L96.71 335.21L99.92 335.19L103.13 335.16L106.34 335.14L109.55 335.11L112.76 335.08L115.97 335.05L119.18 335.02L122.39 334.99L125.6 334.96L128.81 334.92L132.02 334.89L135.23 334.85L138.44 334.81L141.65 334.77L144.86 334.72L148.07 334.68L151.28 334.63L154.49 334.58L157.7 334.53L160.92 334.47L164.13 334.41L167.34 334.35L170.55 334.28L173.76 334.21L176.97 334.14L180.18 334.06L183.39 333.97L186.6 333.88L189.81 333.78L193.02 333.67L196.24 333.56L199.45 333.43L202.66 333.3L205.87 333.15L209.09 332.99L212.3 332.81L215.51 332.61L218.73 332.4L221.94 332.15L225.16 331.88L228.38 331.58L231.59 331.24L234.82 330.85L238.04 330.4L241.26 329.89L244.49 329.29L247.73 328.6L250.97 327.78L254.22 326.82L257.48 325.68L260.75 324.33L264.02 322.75L267.31 320.9L270.6 318.76L273.89 316.34L277.17 313.62L280.44 310.63L283.67 307.4L286.9 303.97L290.13 300.38L293.35 296.66L296.57 292.83L299.79 288.91L303 284.92L306.22 280.87L309.43 276.77L312.65 272.63L315.86 268.46L319.07 264.26L322.28 260.04L325.49 255.8L328.7 251.55L331.91 247.28L335.12 243.01L338.34 238.72L341.55 234.43L339.78 233.11L336.57 237.4L333.37 241.69L330.16 245.96L326.95 250.22L323.74 254.48L320.53 258.71L317.32 262.93L314.11 267.12L310.9 271.29L307.7 275.42L304.49 279.51L301.29 283.55L298.08 287.52L294.88 291.43L291.68 295.23L288.48 298.93L285.29 302.48L282.1 305.87L278.91 309.05L275.76 312.02L272.62 314.75L269.49 317.21L266.36 319.39L263.23 321.28L260.08 322.9L256.93 324.29L253.77 325.46L250.6 326.46L247.42 327.3L244.24 328.02L241.05 328.64L237.85 329.17L234.65 329.64L231.46 330.04L228.25 330.39L225.05 330.71L221.85 330.98L218.64 331.23L215.44 331.46L212.23 331.66L209.02 331.84L205.82 332.01L202.61 332.16L199.4 332.3L196.19 332.42L192.99 332.54L189.78 332.65L186.57 332.75L183.36 332.85L180.15 332.93L176.94 333.02L173.73 333.09L170.52 333.16L167.31 333.23L164.1 333.3L160.89 333.36L157.69 333.41L154.48 333.47L151.27 333.52L148.06 333.57L144.85 333.61L141.64 333.66L138.43 333.7L135.22 333.74L132.01 333.78L128.8 333.81L125.59 333.85L122.38 333.88L119.17 333.91L115.96 333.94L112.75 333.97L109.54 334L106.33 334.03L103.12 334.06L99.91 334.08L96.7 334.11L93.49 334.13L90.28 334.15L87.07 334.18L83.86 334.2L80.65 334.22L77.44 334.24L74.23 334.26L71.02 334.28L67.81 334.29L64.6 334.31Z"/><path d="M203.54 436.89L206.75 432.29L209.95 427.72L213.16 423.18L216.37 418.67L219.58 414.19L222.79 409.74L225.99 405.34L229.2 400.98L232.41 396.67L235.61 392.42L238.82 388.24L242.02 384.13L245.22 380.12L248.42 376.23L251.62 372.46L254.81 368.86L258 365.45L261.18 362.26L264.33 359.29L267.46 356.59L270.59 354.16L273.72 352.03L276.85 350.19L280 348.61L283.15 347.27L286.31 346.13L289.49 345.16L292.66 344.35L295.85 343.65L299.04 343.05L302.24 342.53L305.43 342.08L308.63 341.69L311.83 341.35L315.04 341.04L318.24 340.77L321.45 340.53L324.65 340.31L327.86 340.11L331.07 339.93L334.27 339.77L337.48 339.62L340.69 339.49L343.9 339.36L347.1 339.24L350.31 339.14L353.52 339.04L356.73 338.95L359.94 338.86L363.15 338.78L366.36 338.7L369.57 338.63L372.78 338.57L375.99 338.5L379.19 338.44L382.4 338.39L385.61 338.33L388.82 338.28L392.03 338.24L395.24 338.19L398.45 338.15L401.66 338.11L404.87 338.07L408.08 338.03L411.29 337.99L414.5 337.96L417.71 337.93L420.92 337.9L424.13 337.87L427.34 337.84L430.55 337.81L433.76 337.78L436.97 337.76L440.18 337.73L443.39 337.71L446.6 337.68L446.59 336.58L443.38 336.6L440.17 336.62L436.96 336.65L433.75 336.67L430.54 336.7L427.33 336.73L424.12 336.76L420.91 336.79L417.7 336.82L414.49 336.85L411.28 336.88L408.07 336.92L404.86 336.96L401.65 336.99L398.44 337.03L395.23 337.08L392.02 337.12L388.81 337.17L385.6 337.22L382.39 337.27L379.18 337.33L375.96 337.38L372.75 337.45L369.54 337.51L366.33 337.58L363.12 337.65L359.91 337.73L356.7 337.82L353.49 337.91L350.28 338.01L347.07 338.11L343.85 338.22L340.64 338.35L337.43 338.48L334.22 338.63L331 338.78L327.79 338.96L324.58 339.15L321.36 339.36L318.15 339.6L314.93 339.86L311.72 340.16L308.5 340.49L305.28 340.87L302.05 341.3L298.83 341.8L295.6 342.38L292.37 343.05L289.12 343.84L285.88 344.78L282.62 345.88L279.35 347.18L276.08 348.72L272.79 350.52L269.5 352.62L266.21 355.01L262.92 357.7L259.65 360.68L256.41 363.92L253.18 367.38L249.95 371.02L246.73 374.82L243.51 378.74L240.29 382.77L237.07 386.89L233.86 391.09L230.64 395.35L227.43 399.67L224.22 404.04L221 408.45L217.79 412.9L214.58 417.39L211.37 421.91L208.16 426.46L204.94 431.03L201.73 435.63Z"/></g>
<path d="M96.44 430.7v-1.81M119.18 430.7v-3.3M141.91 430.7v-1.81M164.65 430.7v-3.3M187.39 430.7v-1.81M210.12 430.7v-3.3M232.86 430.7v-1.81M255.6 430.7v-3.3M278.34 430.7v-1.81M301.07 430.7v-3.3M323.81 430.7v-1.81M346.55 430.7v-3.3M369.29 430.7v-1.81M392.02 430.7v-3.3M414.76 430.7v-1.81M73.7 257.54h4.2M73.7 276.78h4.2M73.7 296.02h4.2M73.7 315.26h4.2M73.7 334.5h4.2M73.7 353.74h4.2M73.7 372.98h4.2M73.7 392.22h4.2M73.7 411.46h4.2" stroke="#1a0a0a" stroke-width="0.9" stroke-opacity="0.9" fill="none"/>
<rect x="73.7" y="238.3" width="363.8" height="192.4" fill="none" stroke="#1a0505" stroke-width="1"/>
<g filter="url(#jet)" clip-path="url(#cpd)">
<rect x="73.7" y="438.4" width="363.8" height="192.6" fill="url(#gd)"/>
<g mask="url(#mkd)">
<path d="M64.61 535.07L67.82 535.05L71.03 535.03L74.24 535.01L77.45 534.99L80.66 534.97L83.87 534.95L87.08 534.93L90.29 534.91L93.5 534.88L96.71 534.86L99.92 534.84L103.13 534.81L106.34 534.78L109.55 534.76L112.76 534.73L115.97 534.7L119.18 534.67L122.39 534.64L125.6 534.6L128.81 534.57L132.02 534.53L135.23 534.49L138.44 534.45L141.65 534.41L144.86 534.37L148.07 534.32L151.28 534.27L154.49 534.22L157.7 534.17L160.91 534.11L164.12 534.05L167.32 533.99L170.54 533.92L173.75 533.85L176.96 533.78L180.17 533.69L183.38 533.61L186.59 533.51L189.8 533.41L193 533.31L196.22 533.19L199.43 533.06L202.63 532.92L205.85 532.77L209.06 532.61L212.27 532.43L215.48 532.23L218.69 532.01L221.9 531.77L225.11 531.49L228.31 531.18L231.53 530.83L234.74 530.44L237.94 529.98L241.15 529.46L244.37 528.85L247.57 528.14L250.79 527.31L254 526.33L257.21 525.17L260.42 523.81L263.63 522.2L266.84 520.33L270.05 518.17L273.26 515.72L276.46 513L279.68 510.02L282.88 506.8L286.1 503.39L289.31 499.82L292.52 496.11L295.73 492.29L298.94 488.37L302.15 484.38L305.36 480.33L308.57 476.23L311.78 472.09L314.99 467.92L318.19 463.72L321.4 459.5L324.62 455.26L327.82 451L331.04 446.73L334.25 442.45L337.46 438.16L340.67 433.87L343.88 429.57L347.09 425.26L350.3 420.95" transform="translate(0 -4.5)" stroke="#fff" stroke-opacity=".22" stroke-width="5" fill="none" filter="url(#b2_5)"/>
<path d="M196.22 645.84L199.43 641.19L202.63 636.56L205.85 631.96L209.06 627.39L212.27 622.84L215.48 618.32L218.69 613.83L221.9 609.38L225.11 604.96L228.31 600.59L231.53 596.27L234.74 592.01L237.94 587.82L241.15 583.7L244.37 579.68L247.57 575.76L250.79 571.98L254 568.36L257.21 564.92L260.42 561.69L263.63 558.72L266.84 556.02L270.05 553.61L273.26 551.5L276.46 549.67L279.68 548.11L282.88 546.78L286.1 545.66L289.31 544.71L292.52 543.91L295.73 543.22L298.94 542.63L302.15 542.13L305.36 541.68L308.57 541.3L311.78 540.96L314.99 540.66L318.19 540.39L321.4 540.15L324.62 539.93L327.82 539.74L331.04 539.56L334.25 539.4L337.46 539.26L340.67 539.12L343.88 539L347.09 538.88L350.3 538.78L353.51 538.68L356.71 538.59L359.93 538.5L363.13 538.42L366.35 538.35L369.56 538.28L372.77 538.21L375.98 538.15L379.19 538.09L382.4 538.03L385.61 537.98L388.82 537.93L392.02 537.88L395.24 537.84L398.44 537.79L401.66 537.75L404.87 537.71L408.08 537.68L411.29 537.64L414.49 537.61L417.71 537.58L420.91 537.54L424.13 537.51L427.33 537.49L430.54 537.46L433.75 537.43L436.96 537.41L440.18 537.38L443.38 537.36L446.59 537.33" transform="translate(0 4.5)" stroke="#fff" stroke-opacity=".22" stroke-width="5" fill="none" filter="url(#b2_5)"/>
<path d="M64.61 535.07L67.82 535.05L71.03 535.03L74.24 535.01L77.45 534.99L80.66 534.97L83.87 534.95L87.08 534.93L90.29 534.91L93.5 534.88L96.71 534.86L99.92 534.84L103.13 534.81L106.34 534.78L109.55 534.76L112.76 534.73L115.97 534.7L119.18 534.67L122.39 534.64L125.6 534.6L128.81 534.57L132.02 534.53L135.23 534.49L138.44 534.45L141.65 534.41L144.86 534.37L148.07 534.32L151.28 534.27L154.49 534.22L157.7 534.17L160.91 534.11L164.12 534.05L167.32 533.99L170.54 533.92L173.75 533.85L176.96 533.78L180.17 533.69L183.38 533.61L186.59 533.51L189.8 533.41L193 533.31L196.22 533.19L199.43 533.06L202.63 532.92L205.85 532.77L209.06 532.61L212.27 532.43L215.48 532.23L218.69 532.01L221.9 531.77L225.11 531.49L228.31 531.18L231.53 530.83L234.74 530.44L237.94 529.98L241.15 529.46L244.37 528.85L247.57 528.14L250.79 527.31L254 526.33L257.21 525.17L260.42 523.81L263.63 522.2L266.84 520.33L270.05 518.17L273.26 515.72L276.46 513L279.68 510.02L282.88 506.8L286.1 503.39L289.31 499.82L292.52 496.11L295.73 492.29L298.94 488.37L302.15 484.38L305.36 480.33L308.57 476.23L311.78 472.09L314.99 467.92L318.19 463.72L321.4 459.5L324.62 455.26L327.82 451L331.04 446.73L334.25 442.45L337.46 438.16L340.67 433.87L343.88 429.57L347.09 425.26L350.3 420.95" transform="translate(0 3)" stroke="#000" stroke-opacity=".14" stroke-width="4" fill="none" filter="url(#b2_5)"/>
<path d="M196.22 645.84L199.43 641.19L202.63 636.56L205.85 631.96L209.06 627.39L212.27 622.84L215.48 618.32L218.69 613.83L221.9 609.38L225.11 604.96L228.31 600.59L231.53 596.27L234.74 592.01L237.94 587.82L241.15 583.7L244.37 579.68L247.57 575.76L250.79 571.98L254 568.36L257.21 564.92L260.42 561.69L263.63 558.72L266.84 556.02L270.05 553.61L273.26 551.5L276.46 549.67L279.68 548.11L282.88 546.78L286.1 545.66L289.31 544.71L292.52 543.91L295.73 543.22L298.94 542.63L302.15 542.13L305.36 541.68L308.57 541.3L311.78 540.96L314.99 540.66L318.19 540.39L321.4 540.15L324.62 539.93L327.82 539.74L331.04 539.56L334.25 539.4L337.46 539.26L340.67 539.12L343.88 539L347.09 538.88L350.3 538.78L353.51 538.68L356.71 538.59L359.93 538.5L363.13 538.42L366.35 538.35L369.56 538.28L372.77 538.21L375.98 538.15L379.19 538.09L382.4 538.03L385.61 537.98L388.82 537.93L392.02 537.88L395.24 537.84L398.44 537.79L401.66 537.75L404.87 537.71L408.08 537.68L411.29 537.64L414.49 537.61L417.71 537.58L420.91 537.54L424.13 537.51L427.33 537.49L430.54 537.46L433.75 537.43L436.96 537.41L440.18 537.38L443.38 537.36L446.59 537.33" transform="translate(0 -3)" stroke="#000" stroke-opacity=".14" stroke-width="4" fill="none" filter="url(#b2_5)"/>
<path d="M193 647.77L196.22 642.98L199.43 638.2L202.63 633.44L205.85 628.69L209.06 623.95L212.27 619.22L215.48 614.5L218.69 609.79L221.9 605.09L225.11 600.41L228.31 595.73L231.53 591.06L234.74 586.4L237.94 581.75L241.15 577.11L244.37 572.48L247.57 567.86L250.79 563.25L254 558.64L257.21 554.04L260.42 549.45L263.63 544.87L266.84 540.3L270.05 535.73L273.26 531.17L276.46 526.62L279.68 522.08L282.88 517.54L286.1 513.01L289.31 508.49L292.52 503.97L295.73 499.46L298.94 494.96L302.15 490.46L305.36 485.97L308.57 481.48L311.78 477L314.99 472.53L318.19 468.06L321.4 463.6L324.62 459.14L327.82 454.69L331.04 450.25L334.25 445.81L337.46 441.37L340.67 436.94L343.88 432.52L347.09 428.1L350.3 423.68L353.51 419.27" transform="translate(1.2 0)" stroke="#fff" stroke-opacity=".5" stroke-width="7" fill="none" filter="url(#b2_5)"/>
<path d="M193 647.77L196.22 642.98L199.43 638.2L202.63 633.44L205.85 628.69L209.06 623.95L212.27 619.22L215.48 614.5L218.69 609.79L221.9 605.09L225.11 600.41L228.31 595.73L231.53 591.06L234.74 586.4L237.94 581.75L241.15 577.11L244.37 572.48L247.57 567.86L250.79 563.25L254 558.64L257.21 554.04L260.42 549.45L263.63 544.87L266.84 540.3L270.05 535.73L273.26 531.17L276.46 526.62L279.68 522.08L282.88 517.54L286.1 513.01L289.31 508.49L292.52 503.97L295.73 499.46L298.94 494.96L302.15 490.46L305.36 485.97L308.57 481.48L311.78 477L314.99 472.53L318.19 468.06L321.4 463.6L324.62 459.14L327.82 454.69L331.04 450.25L334.25 445.81L337.46 441.37L340.67 436.94L343.88 432.52L347.09 428.1L350.3 423.68L353.51 419.27" transform="translate(1.2 0)" stroke="#fff" stroke-opacity=".85" stroke-width="2.6" fill="none" filter="url(#b0_6)"/>
</g>
<path d="M193 647.77L196.22 642.98L199.43 638.2L202.63 633.44L205.85 628.69L209.06 623.95L212.27 619.22L215.48 614.5L218.69 609.79L221.9 605.09L225.11 600.41L228.31 595.73L231.53 591.06L234.74 586.4L237.94 581.75L241.15 577.11L244.37 572.48L247.57 567.86L250.79 563.25L254 558.64L257.21 554.04L260.42 549.45L263.63 544.87L266.84 540.3L270.05 535.73L273.26 531.17L276.46 526.62L279.68 522.08L282.88 517.54L286.1 513.01L289.31 508.49L292.52 503.97L295.73 499.46L298.94 494.96L302.15 490.46L305.36 485.97L308.57 481.48L311.78 477L314.99 472.53L318.19 468.06L321.4 463.6L324.62 459.14L327.82 454.69L331.04 450.25L334.25 445.81L337.46 441.37L340.67 436.94L343.88 432.52L347.09 428.1L350.3 423.68L353.51 419.27" transform="translate(1.2 0)" stroke="#fff" stroke-opacity=".22" stroke-width="2.6" fill="none" filter="url(#b0_6)"/>
<path d="M64.61 535.07L67.82 535.05L71.03 535.03L74.24 535.01L77.45 534.99L80.66 534.97L83.87 534.95L87.08 534.93L90.29 534.91L93.5 534.88L96.71 534.86L99.92 534.84L103.13 534.81L106.34 534.78L109.55 534.76L112.76 534.73L115.97 534.7L119.18 534.67L122.39 534.64L125.6 534.6L128.81 534.57L132.02 534.53L135.23 534.49L138.44 534.45L141.65 534.41L144.86 534.37L148.07 534.32L151.28 534.27L154.49 534.22L157.7 534.17L160.91 534.11L164.12 534.05L167.32 533.99L170.54 533.92L173.75 533.85L176.96 533.78L180.17 533.69L183.38 533.61L186.59 533.51L189.8 533.41L193 533.31L196.22 533.19L199.43 533.06L202.63 532.92L205.85 532.77L209.06 532.61L212.27 532.43L215.48 532.23L218.69 532.01L221.9 531.77L225.11 531.49L228.31 531.18L231.53 530.83L234.74 530.44L237.94 529.98L241.15 529.46L244.37 528.85L247.57 528.14L250.79 527.31L254 526.33L257.21 525.17L260.42 523.81L263.63 522.2L266.84 520.33L270.05 518.17L273.26 515.72L276.46 513L279.68 510.02L282.88 506.8L286.1 503.39L289.31 499.82L292.52 496.11L295.73 492.29L298.94 488.37L302.15 484.38L305.36 480.33L308.57 476.23L311.78 472.09L314.99 467.92L318.19 463.72L321.4 459.5L324.62 455.26L327.82 451L331.04 446.73L334.25 442.45L337.46 438.16L340.67 433.87L343.88 429.57L347.09 425.26L350.3 420.95" transform="translate(0 0.4)" stroke="#000" stroke-opacity=".08" stroke-width="2.4" fill="none" filter="url(#b0_6)"/>
<path d="M196.22 645.84L199.43 641.19L202.63 636.56L205.85 631.96L209.06 627.39L212.27 622.84L215.48 618.32L218.69 613.83L221.9 609.38L225.11 604.96L228.31 600.59L231.53 596.27L234.74 592.01L237.94 587.82L241.15 583.7L244.37 579.68L247.57 575.76L250.79 571.98L254 568.36L257.21 564.92L260.42 561.69L263.63 558.72L266.84 556.02L270.05 553.61L273.26 551.5L276.46 549.67L279.68 548.11L282.88 546.78L286.1 545.66L289.31 544.71L292.52 543.91L295.73 543.22L298.94 542.63L302.15 542.13L305.36 541.68L308.57 541.3L311.78 540.96L314.99 540.66L318.19 540.39L321.4 540.15L324.62 539.93L327.82 539.74L331.04 539.56L334.25 539.4L337.46 539.26L340.67 539.12L343.88 539L347.09 538.88L350.3 538.78L353.51 538.68L356.71 538.59L359.93 538.5L363.13 538.42L366.35 538.35L369.56 538.28L372.77 538.21L375.98 538.15L379.19 538.09L382.4 538.03L385.61 537.98L388.82 537.93L392.02 537.88L395.24 537.84L398.44 537.79L401.66 537.75L404.87 537.71L408.08 537.68L411.29 537.64L414.49 537.61L417.71 537.58L420.91 537.54L424.13 537.51L427.33 537.49L430.54 537.46L433.75 537.43L436.96 537.41L440.18 537.38L443.38 537.36L446.59 537.33" stroke="#000" stroke-opacity=".08" stroke-width="2.4" fill="none" filter="url(#b0_6)"/>
</g>
<g clip-path="url(#cpd)" fill="url(#lgd)"><path d="M64.61 535.57L67.82 535.55L71.03 535.53L74.24 535.51L77.45 535.49L80.66 535.47L83.87 535.45L87.08 535.43L90.29 535.41L93.5 535.39L96.71 535.36L99.92 535.34L103.13 535.31L106.34 535.29L109.55 535.26L112.76 535.23L115.97 535.2L119.18 535.17L122.39 535.14L125.6 535.11L128.81 535.07L132.02 535.04L135.23 535L138.44 534.96L141.65 534.92L144.86 534.87L148.07 534.83L151.28 534.78L154.49 534.73L157.7 534.68L160.91 534.62L164.12 534.56L167.34 534.5L170.55 534.43L173.76 534.36L176.97 534.29L180.18 534.2L183.39 534.12L186.6 534.03L189.81 533.93L193.02 533.82L196.23 533.7L199.45 533.58L202.66 533.44L205.87 533.3L209.08 533.13L212.3 532.96L215.51 532.76L218.72 532.54L221.94 532.3L225.15 532.03L228.37 531.73L231.59 531.38L234.81 530.99L238.03 530.54L241.26 530.03L244.48 529.43L247.72 528.73L250.96 527.92L254.2 526.95L257.46 525.81L260.72 524.47L263.99 522.88L267.27 521.03L270.56 518.89L273.85 516.46L277.13 513.74L280.39 510.75L283.62 507.52L286.85 504.09L290.07 500.5L293.3 496.77L296.51 492.94L299.73 489.02L302.95 485.02L306.16 480.97L309.37 476.86L312.59 472.72L315.8 468.54L319.01 464.34L322.22 460.12L325.43 455.87L328.64 451.62L331.85 447.35L335.07 443.07L338.28 438.78L341.49 434.48L339.84 433.25L336.63 437.55L333.42 441.84L330.22 446.12L327.01 450.38L323.8 454.64L320.59 458.88L317.38 463.1L314.17 467.3L310.96 471.47L307.76 475.6L304.55 479.7L301.34 483.74L298.14 487.72L294.94 491.63L291.73 495.44L288.54 499.14L285.34 502.7L282.15 506.09L278.96 509.28L275.8 512.26L272.66 514.99L269.53 517.45L266.4 519.63L263.26 521.52L260.11 523.15L256.95 524.53L253.79 525.71L250.61 526.7L247.43 527.55L244.25 528.27L241.05 528.89L237.86 529.42L234.66 529.88L231.46 530.29L228.26 530.64L225.06 530.95L221.85 531.23L218.65 531.48L215.44 531.7L212.23 531.91L209.03 532.09L205.82 532.25L202.61 532.41L199.4 532.54L196.2 532.67L192.99 532.79L189.78 532.9L186.57 533L183.36 533.09L180.15 533.18L176.94 533.26L173.73 533.34L170.52 533.41L167.31 533.48L164.11 533.55L160.9 533.61L157.69 533.66L154.48 533.72L151.27 533.77L148.06 533.82L144.85 533.86L141.64 533.91L138.43 533.95L135.22 533.99L132.01 534.03L128.8 534.06L125.59 534.1L122.38 534.13L119.17 534.16L115.96 534.19L112.75 534.22L109.54 534.25L106.33 534.28L103.12 534.31L99.91 534.33L96.7 534.36L93.49 534.38L90.28 534.4L87.07 534.43L83.86 534.45L80.65 534.47L77.44 534.49L74.23 534.51L71.02 534.53L67.81 534.55L64.6 534.56Z"/><path d="M203.48 637.15L206.68 632.55L209.89 627.98L213.1 623.43L216.31 618.91L219.52 614.43L222.73 609.98L225.93 605.57L229.14 601.2L232.35 596.89L235.55 592.63L238.76 588.44L241.96 584.34L245.16 580.32L248.36 576.42L251.56 572.65L254.75 569.05L257.94 565.63L261.12 562.43L264.28 559.46L267.42 556.75L270.55 554.33L273.68 552.2L276.82 550.35L279.97 548.77L283.13 547.42L286.3 546.28L289.47 545.32L292.65 544.5L295.84 543.8L299.03 543.2L302.23 542.69L305.43 542.24L308.63 541.85L311.83 541.5L315.03 541.2L318.24 540.92L321.44 540.68L324.65 540.46L327.86 540.27L331.06 540.09L334.27 539.92L337.48 539.78L340.69 539.64L343.89 539.51L347.1 539.4L350.31 539.29L353.52 539.19L356.73 539.1L359.94 539.01L363.15 538.93L366.36 538.86L369.57 538.79L372.78 538.72L375.98 538.66L379.19 538.6L382.4 538.54L385.61 538.49L388.82 538.44L392.03 538.39L395.24 538.34L398.45 538.3L401.66 538.26L404.87 538.22L408.08 538.18L411.29 538.15L414.5 538.11L417.71 538.08L420.92 538.05L424.13 538.02L427.34 537.99L430.55 537.96L433.76 537.93L436.97 537.91L440.18 537.88L443.39 537.86L446.6 537.84L446.59 536.83L443.38 536.85L440.17 536.88L436.96 536.9L433.75 536.93L430.54 536.95L427.33 536.98L424.12 537.01L420.91 537.04L417.7 537.07L414.49 537.1L411.28 537.14L408.07 537.17L404.86 537.21L401.65 537.25L398.44 537.29L395.23 537.33L392.02 537.38L388.81 537.42L385.6 537.47L382.39 537.52L379.18 537.58L375.97 537.64L372.75 537.7L369.54 537.77L366.33 537.83L363.12 537.91L359.91 537.99L356.7 538.07L353.49 538.16L350.28 538.26L347.07 538.37L343.86 538.48L340.64 538.6L337.43 538.74L334.22 538.88L331.01 539.04L327.79 539.21L324.58 539.41L321.37 539.62L318.15 539.85L314.94 540.12L311.72 540.41L308.5 540.75L305.28 541.13L302.06 541.56L298.84 542.06L295.61 542.64L292.38 543.32L289.14 544.11L285.89 545.04L282.64 546.15L279.38 547.45L276.11 548.99L272.83 550.8L269.54 552.89L266.25 555.29L262.97 557.98L259.71 560.96L256.47 564.21L253.24 567.67L250.01 571.31L246.79 575.11L243.57 579.03L240.35 583.07L237.13 587.19L233.92 591.39L230.7 595.66L227.49 599.98L224.28 604.36L221.06 608.77L217.85 613.23L214.64 617.72L211.43 622.24L208.22 626.8L205.01 631.38L201.79 635.98Z"/></g>
<path d="M96.44 631v-1.81M119.18 631v-3.3M141.91 631v-1.81M164.65 631v-3.3M187.39 631v-1.81M210.12 631v-3.3M232.86 631v-1.81M255.6 631v-3.3M278.34 631v-1.81M301.07 631v-3.3M323.81 631v-1.81M346.55 631v-3.3M369.29 631v-1.81M392.02 631v-3.3M414.76 631v-1.81M73.7 457.66h4.2M73.7 476.92h4.2M73.7 496.18h4.2M73.7 515.44h4.2M73.7 534.7h4.2M73.7 553.96h4.2M73.7 573.22h4.2M73.7 592.48h4.2M73.7 611.74h4.2" stroke="#1a0a0a" stroke-width="0.9" stroke-opacity="0.9" fill="none"/>
<rect x="73.7" y="438.4" width="363.8" height="192.6" fill="none" stroke="#1a0505" stroke-width="1"/>
<text class="k" transform="translate(66.8 253.7) scale(1.05 1)" font-size="19" text-anchor="end" fill="#000">4.2</text>
<text class="k" transform="translate(66.8 283.88) scale(1.05 1)" font-size="19" text-anchor="end" fill="#000">4.0</text>
<text class="k" transform="translate(66.8 322.36) scale(1.05 1)" font-size="19" text-anchor="end" fill="#000">3.8</text>
<text class="k" transform="translate(66.8 360.84) scale(1.05 1)" font-size="19" text-anchor="end" fill="#000">3.6</text>
<text class="k" transform="translate(66.8 399.32) scale(1.05 1)" font-size="19" text-anchor="end" fill="#000">3.4</text>
<text class="k" transform="translate(66.8 431.8) scale(1.05 1)" font-size="19" text-anchor="end" fill="#000">3.2</text>
<text class="k" transform="translate(27.4 335.1) rotate(-90) scale(1.1 1)" font-size="18.6" text-anchor="middle" fill="#000">Frequency (GHz)</text>
<text class="k" transform="translate(66.8 453.8) scale(1.05 1)" font-size="19" text-anchor="end" fill="#000">4.2</text>
<text class="k" transform="translate(66.8 484.02) scale(1.05 1)" font-size="19" text-anchor="end" fill="#000">4.0</text>
<text class="k" transform="translate(66.8 522.54) scale(1.05 1)" font-size="19" text-anchor="end" fill="#000">3.8</text>
<text class="k" transform="translate(66.8 561.06) scale(1.05 1)" font-size="19" text-anchor="end" fill="#000">3.6</text>
<text class="k" transform="translate(66.8 599.58) scale(1.05 1)" font-size="19" text-anchor="end" fill="#000">3.4</text>
<text class="k" transform="translate(66.8 632.1) scale(1.05 1)" font-size="19" text-anchor="end" fill="#000">3.2</text>
<text class="k" transform="translate(27.4 535.3) rotate(-90) scale(1.1 1)" font-size="18.6" text-anchor="middle" fill="#000">Frequency (GHz)</text>
<text class="m" transform="translate(95 268.9) scale(1.13 1)" font-size="18" text-anchor="start" fill="#200000">(c)</text>
<text class="m" transform="translate(94.2 465.4) scale(1.13 1)" font-size="18" text-anchor="start" fill="#200000">(d)</text>
<text class="w" transform="translate(94.1 414.5) scale(1.14 1)" font-size="18" text-anchor="start" fill="#fff">Experiment</text>
<text class="w" transform="translate(93.8 614.7) scale(1.14 1)" font-size="18" text-anchor="start" fill="#fff">Calculation</text>
<text class="k" transform="translate(76.1 654.5) scale(1.05 1)" font-size="19" text-anchor="middle" fill="#000">0.3</text>
<text class="k" transform="translate(118.58 654.5) scale(1.05 1)" font-size="19" text-anchor="middle" fill="#000">0.4</text>
<text class="k" transform="translate(164.05 654.5) scale(1.05 1)" font-size="19" text-anchor="middle" fill="#000">0.5</text>
<text class="k" transform="translate(209.53 654.5) scale(1.05 1)" font-size="19" text-anchor="middle" fill="#000">0.6</text>
<text class="k" transform="translate(255 654.5) scale(1.05 1)" font-size="19" text-anchor="middle" fill="#000">0.7</text>
<text class="k" transform="translate(300.47 654.5) scale(1.05 1)" font-size="19" text-anchor="middle" fill="#000">0.8</text>
<text class="k" transform="translate(345.95 654.5) scale(1.05 1)" font-size="19" text-anchor="middle" fill="#000">0.9</text>
<text class="k" transform="translate(391.42 654.5) scale(1.05 1)" font-size="19" text-anchor="middle" fill="#000">1.0</text>
<text class="k" transform="translate(430.4 654.5) scale(1.05 1)" font-size="19" text-anchor="middle" fill="#000">1.1</text>
<text class="k" transform="translate(255.1 679.4) scale(1.13 1)" font-size="18" text-anchor="middle" fill="#000">Magnetic field (kOe)</text>
<rect x="441.9" y="292" width="10.7" height="139" fill="url(#cb)" filter="url(#jet)"/>
<text class="k" transform="translate(455.3 302.1) scale(1.1 1)" font-size="14.5" text-anchor="start" fill="#000">0</text>
<text class="k" transform="translate(455.3 366.5) scale(1.1 1)" font-size="14.5" text-anchor="start" fill="#000">−20</text>
<text class="k" transform="translate(455.3 427.9) scale(1.1 1)" font-size="14.5" text-anchor="start" fill="#000">−40</text>
<text class="k" transform="translate(442.8 267) scale(1.0 1)" font-size="16" fill="#000"><tspan fill="#777">|</tspan>S<tspan font-size="9.5" dy="2.6">21</tspan><tspan dy="-2.6" fill="#333">|</tspan></text>
<text class="k" transform="translate(442 283.1) scale(1.02 1)" font-size="15.3" text-anchor="start" fill="#000">(dB)</text>
<rect x="441.9" y="492.6" width="10.7" height="139" fill="url(#cb)" filter="url(#jet)"/>
<text class="k" transform="translate(455.3 502.7) scale(1.1 1)" font-size="14.5" text-anchor="start" fill="#000">0</text>
<text class="k" transform="translate(455.3 567.1) scale(1.1 1)" font-size="14.5" text-anchor="start" fill="#000">−20</text>
<text class="k" transform="translate(455.3 628.6) scale(1.1 1)" font-size="14.5" text-anchor="start" fill="#000">−40</text>
<text class="k" transform="translate(442.8 467.6) scale(1.0 1)" font-size="16" fill="#000"><tspan fill="#777">|</tspan>S<tspan font-size="9.5" dy="2.6">21</tspan><tspan dy="-2.6" fill="#333">|</tspan></text>
<text class="k" transform="translate(442 483.7) scale(1.02 1)" font-size="15.3" text-anchor="start" fill="#000">(dB)</text>
</svg>
</body></html>
